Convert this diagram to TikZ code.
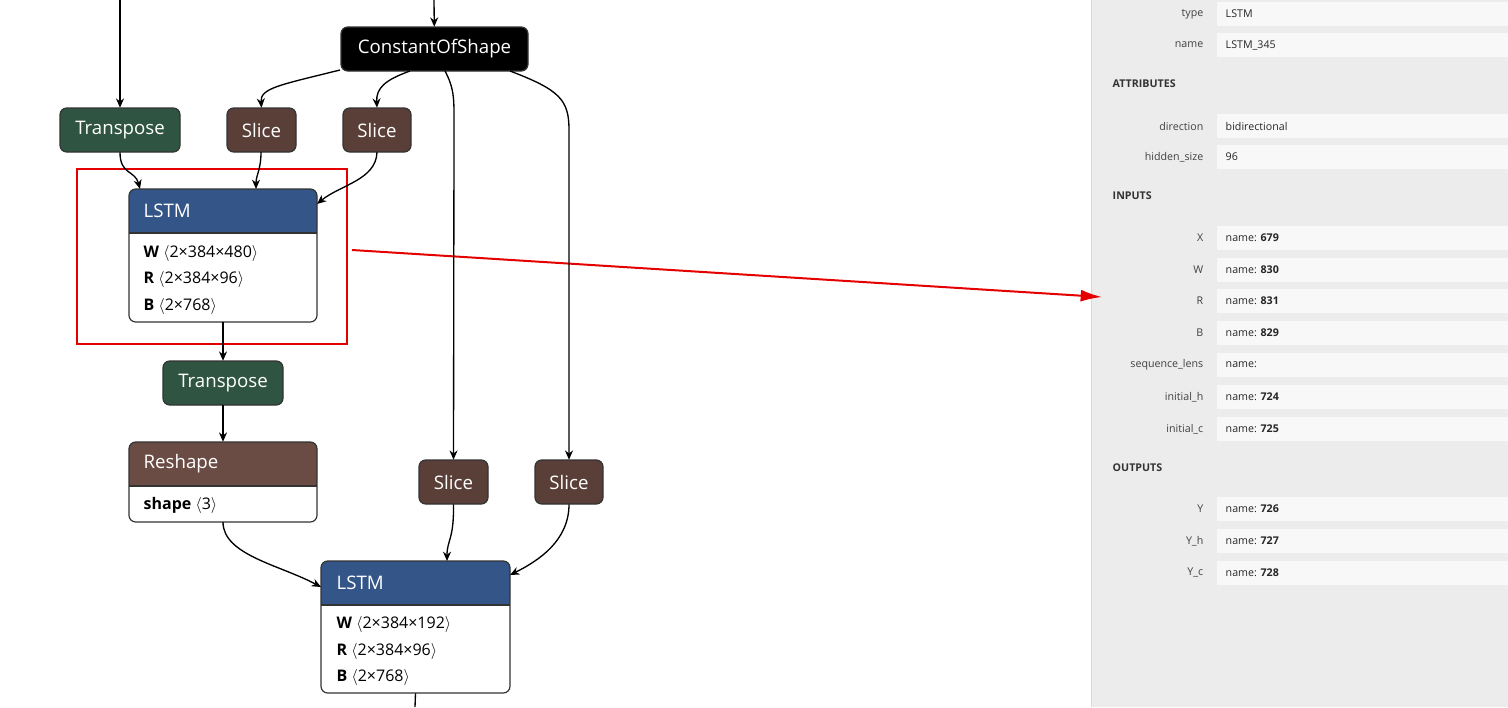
\documentclass[tikz,border=0pt]{standalone}
\usepackage{fontspec}
\setmainfont{Open Sans}
\usetikzlibrary{arrows.meta}
\definecolor{tgreen}{HTML}{2F5542}
\definecolor{tbrown}{HTML}{5A3E38}
\definecolor{rbrown}{HTML}{6B4C44}
\definecolor{lblue}{HTML}{335588}
\definecolor{panel}{HTML}{ECECEC}
\definecolor{valbg}{HTML}{F8F8F8}
\tikzset{
 op/.style={draw=black!80,line width=0.9pt,rounded corners=5pt,text=white,font=\fontsize{14}{16}\selectfont,inner sep=0pt},
 edge/.style={line width=1pt,-{Stealth[length=7pt,width=6pt]}},
 lab/.style={anchor=east,font=\fontsize{8}{9}\selectfont,text=black!75},
 hdr/.style={anchor=west,font=\fontsize{8}{9}\selectfont\bfseries,text=black!80},
 val/.style={anchor=west,font=\fontsize{8}{9}\selectfont,text=black!85},
 body/.style={anchor=west,font=\fontsize{12}{14}\selectfont}
}
\newcommand{\opbox}[6]{% name, x1,y1,x2,y2, color
 \fill[#6,rounded corners=5pt] (#2,#3) rectangle (#4,#5);
 \draw[black!80,line width=0.9pt,rounded corners=5pt] (#2,#3) rectangle (#4,#5);
 \node (#1) [inner sep=0pt,minimum width=(#4-#2)*0.75pt,minimum height=(#5-#3)*0.75pt] at ({(#2+#4)/2},{(#3+#5)/2}) {};}
\begin{document}
\begin{tikzpicture}[x=0.75pt,y=-0.75pt]
\useasboundingbox (0,0) rectangle (1508,707);
% right panel
\fill[panel] (1091,0) rectangle (1508,707);
\draw[black!15] (1091,0) -- (1091,707);
\foreach \y/\l/\v in {14/type/LSTM,45/name/LSTM\_345,126/direction/bidirectional,157/hidden\_size/96,
 238/X/{name: \textbf{679}},270/W/{name: \textbf{830}},301/R/{name: \textbf{831}},333/B/{name: \textbf{829}},
 365/sequence\_lens/{name:},397/initial\_h/{name: \textbf{724}},429/initial\_c/{name: \textbf{725}},
 509/Y/{name: \textbf{726}},541/Y\_h/{name: \textbf{727}},573/Y\_c/{name: \textbf{728}}}{
 \fill[valbg] (1217,\y-12) rectangle (1508,\y+12);
 \node[lab] at (1208,\y) {\l};
 \node[val] at (1221,\y) {\v};}
\node[hdr] at (1108,84) {ATTRIBUTES};
\node[hdr] at (1108,196) {INPUTS};
\node[hdr] at (1108,468) {OUTPUTS};
% nodes
\opbox{cos}{341}{27}{528}{71}{black}
\node[text=white,font=\fontsize{14}{16}\selectfont] at (cos) {ConstantOfShape};
\opbox{tr1}{60}{108}{180}{152}{tgreen}
\node[text=white,font=\fontsize{14}{16}\selectfont] at (tr1) {Transpose};
\opbox{sl1}{227}{108}{296}{152}{tbrown}
\node[text=white,font=\fontsize{14}{16}\selectfont] at (sl1) {Slice};
\opbox{sl2}{343}{108}{411}{152}{tbrown}
\node[text=white,font=\fontsize{14}{16}\selectfont] at (sl2) {Slice};
\opbox{tr2}{163}{361}{283}{405}{tgreen}
\node[text=white,font=\fontsize{14}{16}\selectfont] at (tr2) {Transpose};
\opbox{sl3}{419}{460}{488}{504}{tbrown}
\node[text=white,font=\fontsize{14}{16}\selectfont] at (sl3) {Slice};
\opbox{sl4}{535}{460}{603}{504}{tbrown}
\node[text=white,font=\fontsize{14}{16}\selectfont] at (sl4) {Slice};
% LSTM1
\fill[white,rounded corners=5pt] (129,189) rectangle (317,322);
\fill[lblue,rounded corners=5pt] (129,189) rectangle (317,233);
\fill[lblue] (129,215) rectangle (317,233);
\draw[black!80,line width=0.9pt] (129,233) -- (317,233);
\draw[black!80,line width=0.9pt,rounded corners=5pt] (129,189) rectangle (317,322);
\node (l1) [inner sep=0pt,minimum width=141pt,minimum height=100pt] at (223,255.5) {};
\node[anchor=west,text=white,font=\fontsize{14}{16}\selectfont] at (139,211) {LSTM};
\node[body] at (139,253) {\textbf{W} $\langle$2×384×480$\rangle$};
\node[body] at (139,279) {\textbf{R} $\langle$2×384×96$\rangle$};
\node[body] at (139,306) {\textbf{B} $\langle$2×768$\rangle$};
% Reshape
\fill[white,rounded corners=5pt] (129,442) rectangle (317,522);
\fill[rbrown,rounded corners=5pt] (129,442) rectangle (317,486);
\fill[rbrown] (129,470) rectangle (317,486);
\draw[black!80,line width=0.9pt] (129,486) -- (317,486);
\draw[black!80,line width=0.9pt,rounded corners=5pt] (129,442) rectangle (317,522);
\node (rs) [inner sep=0pt,minimum width=141pt,minimum height=60pt] at (223,482) {};
\node[anchor=west,text=white,font=\fontsize{14}{16}\selectfont] at (139,464) {Reshape};
\node[body] at (139,505) {\textbf{shape} $\langle$3$\rangle$};
% LSTM2
\fill[white,rounded corners=5pt] (321,561) rectangle (510,693);
\fill[lblue,rounded corners=5pt] (321,561) rectangle (510,605);
\fill[lblue] (321,587) rectangle (510,605);
\draw[black!80,line width=0.9pt] (321,605) -- (510,605);
\draw[black!80,line width=0.9pt,rounded corners=5pt] (321,561) rectangle (510,693);
\node (l2) [inner sep=0pt,minimum width=141.75pt,minimum height=99pt] at (415.5,627) {};
\node[anchor=west,text=white,font=\fontsize{14}{16}\selectfont] at (332,583) {LSTM};
\node[body] at (332,624) {\textbf{W} $\langle$2×384×192$\rangle$};
\node[body] at (332,651) {\textbf{R} $\langle$2×384×96$\rangle$};
\node[body] at (332,677) {\textbf{B} $\langle$2×768$\rangle$};
% red highlight
\draw[red!90!black,line width=1.5pt] (77,169) rectangle (347,344);
\coordinate (ra) at (352,250);
\coordinate (rb) at (1102,297);
\draw[red!90!black,line width=1.5pt,-{Latex[length=16pt,width=9pt]}] (ra) -- (rb);
% edges
\coordinate (t1) at (120,0); \coordinate (t2) at (434,0); \coordinate (t3) at (415,707);
\draw[edge] (t1) -- (tr1);
\draw[edge] (t2) -- (cos);
\draw[line width=1pt] (l2.south) ++(0,0) -- (t3);
\draw[edge] (340,70) .. controls (280,85) and (260,88) .. (sl1.north);
\draw[edge] (410,71) .. controls (385,80) and (376,88) .. (sl2.north);
\draw[edge] (445,71) .. controls (455,90) and (454,100) .. (454,130) -- (sl3.north);
\draw[edge] (510,71) .. controls (560,90) and (569,100) .. (569,130) -- (sl4.north);
\draw[edge] (tr1.south) .. controls (120,175) and (135,170) .. (140,189);
\draw[edge] (261,152) .. controls (261,170) and (256,175) .. (256,189);
\draw[edge] (sl2.south) .. controls (376,180) and (340,185) .. (317,204);
\draw[edge] (l1.south) -- (tr2.north);
\draw[edge] (tr2.south) -- (rs.north);
\draw[edge] (223,522) .. controls (223,555) and (280,565) .. (321,587);
\draw[edge] (sl3.south) .. controls (454,540) and (447,540) .. (447,561);
\draw[edge] (sl4.south) .. controls (569,540) and (540,560) .. (510,575);
\end{tikzpicture}
\end{document}
